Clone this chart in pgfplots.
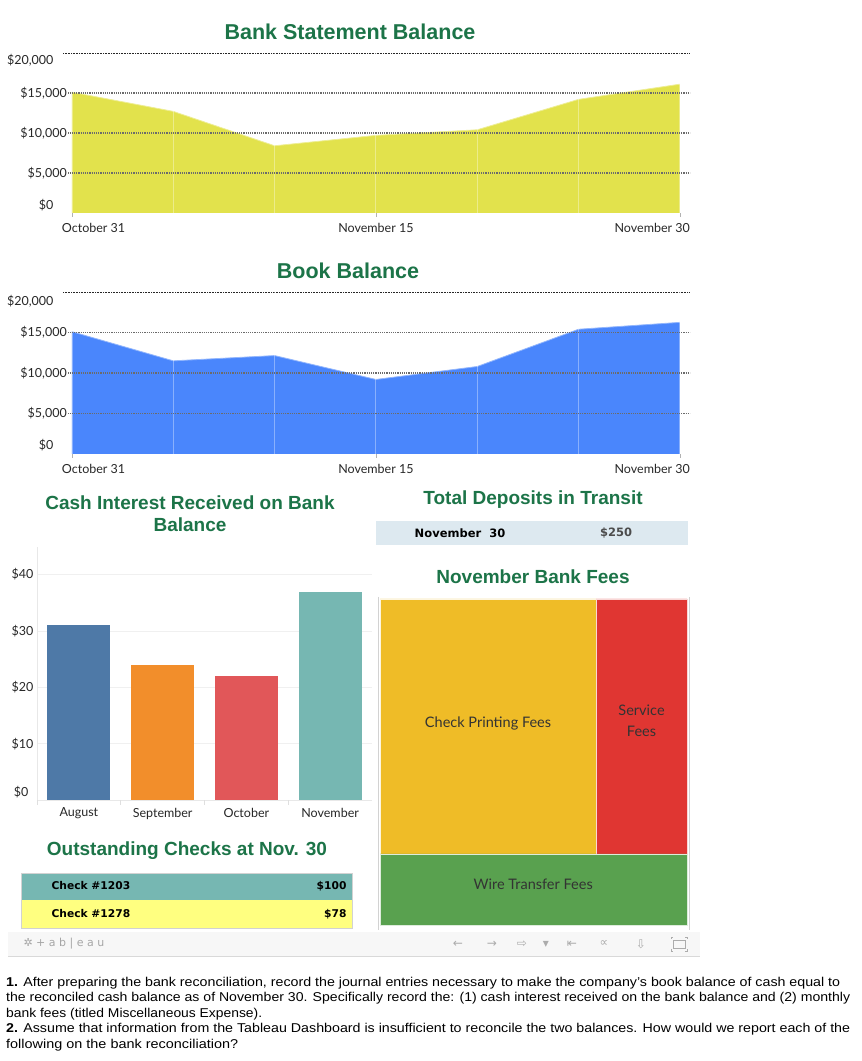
\documentclass[border=0pt]{standalone}
\usepackage{fontspec}
\setmainfont{Liberation Sans}
\newfontfamily\lato{Lato}
\newfontfamily\dvs{DejaVu Sans}
\usepackage{graphicx}
\usepackage{pgfplots}
\pgfplotsset{compat=1.18}

\definecolor{tgreen}{RGB}{28,116,72}
\definecolor{areaY}{RGB}{226,226,76}
\definecolor{areaB}{RGB}{74,134,252}
\definecolor{bBlue}{RGB}{78,121,167}
\definecolor{bOrange}{RGB}{242,142,43}
\definecolor{bRed}{RGB}{225,87,89}
\definecolor{bTeal}{RGB}{118,183,178}
\definecolor{tmY}{RGB}{239,188,39}
\definecolor{tmR}{RGB}{224,54,50}
\definecolor{tmG}{RGB}{89,161,79}
\definecolor{depBG}{RGB}{221,233,240}
\definecolor{chkY}{RGB}{255,255,128}
\definecolor{tickc}{RGB}{40,40,40}

\newcommand\ttl{\bfseries\fontsize{19}{22}\selectfont}
\newcommand\tkf{\lato\fontsize{12.5}{14}\selectfont}
\newcommand\qf{\fontsize{12.8}{15}\selectfont}

\pgfplotsset{
  areachart/.style={
    anchor=south west, scale only axis, width=627pt,
    xmin=-0.44, xmax=30.5, ymin=0, ymax=20000,
    axis on top, axis line style={draw=none}, clip=false,
    scaled y ticks=false,
    xtick={0,15,30},
    xticklabels={{\makebox[0pt][l]{\hspace{-10pt}October 31}},{November 15},{\makebox[0pt][r]{November 30\hspace{-10pt}}}},
    xticklabel style={yshift=-2.5pt},
    xtick pos=left, tick align=outside, major tick length=4pt,
    xtick style={draw=gray!60, line width=0.6pt},
    ytick={5000,10000,15000},
    yticklabels={{\$5,000},{\$10,000},{\$15,000}},
    ytick style={draw=none},
    yticklabel style={fill=white, inner sep=1pt, xshift=9pt},
    ymajorgrids, y grid style={black!58, line width=1.5pt, dash pattern=on 1.2pt off 1pt},
    minor xtick={5,10,20,25}, xmajorgrids, xminorgrids, minor tick length=0pt,
    x grid style={white, opacity=0.35, line width=0.8pt},
    tick label style={font=\tkf, text=tickc},
  }
}

\begin{document}
\begin{tikzpicture}
\path[use as bounding box] (0pt,0pt) rectangle (862pt,1061pt);
\fill[white] (0pt,0pt) rectangle (862pt,1061pt);

% ---------- Bank Statement Balance ----------
\node[font=\bfseries\fontsize{21.5}{24}\selectfont, text=tgreen] at (350pt,1029pt) {Bank Statement Balance};
\begin{axis}[areachart, at={(63pt,848pt)}, height=160pt]
\addplot[fill=areaY, draw=none] coordinates {(0,15100) (5,12700) (10,8400) (15,9700) (20,10400) (25,14200) (30,16100)} \closedcycle;
\addplot[draw=areaY!60!white, line width=0.8pt] coordinates {(0,15100) (5,12700) (10,8400) (15,9700) (20,10400) (25,14200) (30,16100)};
\draw[black!85, line width=0.7pt, dash pattern=on 1pt off 0.6pt] (axis cs:-0.44,20000) -- (axis cs:30.5,20000);
\end{axis}
\node[font=\tkf, text=tickc, anchor=east] at (57pt,856pt) {\$0};
\node[font=\tkf, text=tickc, anchor=east] at (57pt,1001pt) {\$20,000};

% ---------- Book Balance ----------
\node[font=\bfseries\fontsize{21.5}{24}\selectfont, text=tgreen] at (348pt,790pt) {Book Balance};
\begin{axis}[areachart, at={(63pt,607pt)}, height=162pt]
\addplot[fill=areaB, draw=none] coordinates {(0,15100) (5,11500) (10,12150) (15,9200) (20,10800) (25,15400) (30,16250)} \closedcycle;
\addplot[draw=areaB!60!white, line width=0.8pt] coordinates {(0,15100) (5,11500) (10,12150) (15,9200) (20,10800) (25,15400) (30,16250)};
\draw[black!85, line width=0.7pt, dash pattern=on 1pt off 0.6pt] (axis cs:-0.44,20000) -- (axis cs:30.5,20000);
\end{axis}
\node[font=\tkf, text=tickc, anchor=east] at (57pt,616pt) {\$0};
\node[font=\tkf, text=tickc, anchor=east] at (57pt,760pt) {\$20,000};

% ---------- Cash Interest ----------
\node[font=\ttl, text=tgreen] at (190pt,558pt) {Cash Interest Received on Bank};
\node[font=\ttl, text=tgreen] at (190pt,536pt) {Balance};
\begin{axis}[anchor=south west, at={(37pt,261pt)}, scale only axis, width=335pt, height=253pt,
  xmin=-0.5, xmax=3.5, ymin=0, ymax=44.9,
  ybar, bar width=63pt, bar shift=0pt,
  axis x line*=bottom, axis y line*=left, axis line style={-, draw=gray!18, line width=0.8pt},
  xtick={0,1,2,3}, xticklabels={August,September,October,November},
  xtick style={draw=none},
  extra x ticks={-0.5,0.5,1.5,2.5}, extra x tick labels={},
  extra x tick style={xtick style={draw=gray!25, line width=0.8pt}, major tick length=5pt, tick align=outside},
  ytick={10,20,30,40}, yticklabels={\$10,\$20,\$30,\$40},
  ytick style={draw=none},
  ymajorgrids, y grid style={gray!12, line width=0.8pt},
  tick label style={font=\tkf, text=tickc},
]
\addplot[fill=bBlue, draw=none] coordinates {(0,31)};
\addplot[fill=bOrange, draw=none] coordinates {(1,24)};
\addplot[fill=bRed, draw=none] coordinates {(2,22)};
\addplot[fill=bTeal, draw=none] coordinates {(3,37)};
\end{axis}
\node[font=\tkf, text=tickc, anchor=east] at (32pt,269pt) {\$0};

% ---------- Deposits in transit ----------
\node[font=\ttl, text=tgreen] at (533pt,561pt) {Total Deposits in Transit};
\fill[depBG] (376pt,516pt) rectangle (688pt,540pt);
\node[font=\dvs\bfseries\fontsize{11.5}{13}\selectfont] at (460pt,528pt) {November\ \ 30};
\node[font=\dvs\bfseries\fontsize{11.5}{13}\selectfont, text=black!70] at (616pt,528pt) {\$250};

% ---------- November Bank Fees (treemap) ----------
\node[font=\ttl, text=tgreen] at (533pt,484pt) {November Bank Fees};
\draw[gray!35, line width=0.8pt] (378pt,464pt) -- (378pt,131pt);
\draw[gray!35, line width=0.8pt] (689pt,464pt) -- (689pt,131pt);
\begin{axis}[anchor=south west, at={(380pt,136pt)}, scale only axis, width=307pt, height=326pt,
  xmin=0, xmax=1, ymin=0, ymax=1, hide axis, clip=false]
\addplot[fill=tmY, draw=white!85!tmY, line width=0.7pt] coordinates {(0,0.218) (0.7036,0.218) (0.7036,1) (0,1) (0,0.218)};
\addplot[fill=tmR, draw=white!80!tmR, line width=0.7pt] coordinates {(0.7036,0.218) (1,0.218) (1,1) (0.7036,1) (0.7036,0.218)};
\addplot[fill=tmG, draw=white!80!tmG, line width=0.7pt] coordinates {(0,0) (1,0) (1,0.218) (0,0.218) (0,0)};
\node[font=\lato\fontsize{14.5}{17}\selectfont, text=black!80] at (axis cs:0.352,0.617) {Check Printing Fees};
\node[font=\lato\fontsize{14.5}{17}\selectfont, text=black!80] at (axis cs:0.852,0.659) {Service};
\node[font=\lato\fontsize{14.5}{17}\selectfont, text=black!80] at (axis cs:0.852,0.595) {Fees};
\node[font=\lato\fontsize{14.5}{17}\selectfont, text=black!80] at (axis cs:0.499,0.126) {Wire Transfer Fees};
\end{axis}

% ---------- Outstanding checks ----------
\node[font=\ttl, text=tgreen] at (187pt,210pt) {Outstanding Checks at Nov. 30};
\fill[bTeal] (21pt,161pt) rectangle (352pt,188pt);
\fill[chkY] (21pt,133pt) rectangle (352pt,161pt);
\draw[gray!35, line width=0.6pt] (21pt,133pt) rectangle (352pt,188pt);
\node[font=\dvs\bfseries\fontsize{10.7}{13}\selectfont, anchor=west] at (48pt,175pt) {Check \#1203};
\node[font=\dvs\bfseries\fontsize{10.7}{13}\selectfont, anchor=east] at (350pt,175pt) {\$100};
\node[font=\dvs\bfseries\fontsize{10.7}{13}\selectfont, anchor=west] at (48pt,147pt) {Check \#1278};
\node[font=\dvs\bfseries\fontsize{10.7}{13}\selectfont, anchor=east] at (350pt,147pt) {\$78};

% ---------- Tableau toolbar ----------
\fill[gray!6] (8pt,105pt) rectangle (700pt,129pt);
\draw[gray!30, line width=0.8pt] (8pt,105pt) -- (700pt,105pt);
\node[font=\dvs\fontsize{11}{13}\selectfont, text=gray!70, anchor=west] at (20pt,117pt) {✲ + a b | e a u};
\foreach \xx/\gg in {458/←, 492/→, 522/⇨, 546/▾, 572/⇤, 604/∝, 641/⇩}
  \node[font=\dvs\fontsize{12}{13}\selectfont, text=gray!65] at (\xx pt,117pt) {\gg};
\draw[gray!65, line width=0.8pt] (673pt,113pt) rectangle (685pt,121pt);
\draw[gray!65, line width=0.8pt] (671pt,112pt) -- (671pt,110pt) -- (673pt,110pt);
\draw[gray!65, line width=0.8pt] (685pt,110pt) -- (687pt,110pt) -- (687pt,112pt);
\draw[gray!65, line width=0.8pt] (671pt,122pt) -- (671pt,124pt) -- (673pt,124pt);
\draw[gray!65, line width=0.8pt] (685pt,124pt) -- (687pt,124pt) -- (687pt,122pt);

% ---------- Questions ----------
\node[anchor=base west, inner sep=0pt, font=\qf] at (6pt,74.5pt) {\resizebox{834pt}{\height}{\textbf{1.} After preparing the bank reconciliation, record the journal entries necessary to make the company’s book balance of cash equal to}};
\node[anchor=base west, inner sep=0pt, font=\qf] at (6pt,59pt) {\resizebox{844pt}{\height}{the reconciled cash balance as of November 30. Specifically record the: (1) cash interest received on the bank balance and (2) monthly}};
\node[anchor=base west, inner sep=0pt, font=\qf] at (6pt,43.5pt) {\resizebox{256pt}{\height}{bank fees (titled Miscellaneous Expense).}};
\node[anchor=base west, inner sep=0pt, font=\qf] at (6pt,28pt) {\resizebox{844pt}{\height}{\textbf{2.} Assume that information from the Tableau Dashboard is insufficient to reconcile the two balances. How would we report each of the}};
\node[anchor=base west, inner sep=0pt, font=\qf] at (6pt,12.5pt) {\resizebox{232pt}{\height}{following on the bank reconciliation?}};
\end{tikzpicture}
\end{document}
